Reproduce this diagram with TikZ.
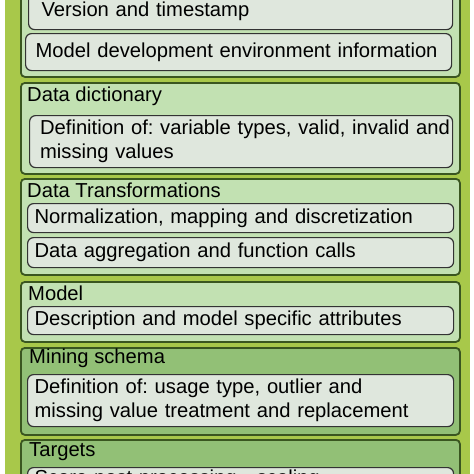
\documentclass[tikz,border=0pt]{standalone}
\usepackage{fontspec}
\setmainfont{Liberation Sans}
\usetikzlibrary{positioning}
\definecolor{limebg}{RGB}{168,200,74}
\definecolor{leafgreen}{RGB}{194,225,178}
\definecolor{mossgreen}{RGB}{146,192,118}
\definecolor{darkrim}{RGB}{58,86,32}
\definecolor{paleface}{RGB}{223,231,221}
\frenchspacing

\begin{document}
\begin{tikzpicture}[x=1pt,y=-1pt,
  every node/.style={font=\fontsize{20.2}{24}\selectfont, inner sep=0pt},
  section/.style={draw=darkrim, line width=1.8pt, rounded corners=4pt, fill=leafgreen,
    anchor=north west, minimum width=439pt},
  subbox/.style={draw=black!80, line width=1.2pt, rounded corners=6pt, fill=paleface,
    anchor=north west, minimum width=426pt, align=left, text width=412pt, inner xsep=7pt},
  heading/.style={anchor=west}]
\useasboundingbox (0,0) rectangle (474,474);
\clip (0,0) rectangle (474,474);
\fill[white] (0,0) rectangle (474,474);
\fill[limebg] (5,0) rectangle (470,474);
% header
\node[section, minimum height=86pt] (header) at (20,-10) {};
\node[subbox, minimum height=37pt, minimum width=424pt, inner xsep=13pt, text width=398pt] (version) at (28,-8) {Version and timestamp};
\node[subbox, minimum height=37pt, inner xsep=10pt, text width=406pt] (envinfo) at (25,33) {Model development environment information};
% data dictionary
\node[section, minimum height=91pt] (dict) at (20,82) {};
\node[heading] (dicttitle) at (27,96) {Data dictionary};
\node[subbox, minimum height=52pt, minimum width=423pt, inner xsep=1.5pt, text width=420pt] (dictdef) at (29,115)
  {\hspace*{9pt}Definition of: variable types, valid, invalid and\\\hspace*{9pt}missing values};
% data transformations
\node[section, minimum height=96pt] (trans) at (20,178) {};
\node[heading] (transtitle) at (27,190) {Data Transformations};
\node[subbox, minimum height=29pt] (norm) at (27,203) {Normalization, mapping and discretization};
\node[subbox, minimum height=30pt] (aggr) at (27,237) {Data aggregation and function calls};
% model
\node[section, minimum height=60pt] (model) at (20,281) {};
\node[heading] (modeltitle) at (28,293) {Model};
\node[subbox, minimum height=28pt] (descr) at (27,306) {Description and model specific attributes};
% mining schema
\node[section, fill=mossgreen, minimum height=87pt] (mining) at (20,347) {};
\node[heading] (miningtitle) at (29,358) {Mining schema};
\node[subbox, minimum height=52pt] (usage) at (27,374) {Definition of: usage type, outlier and\\missing value treatment and replacement};
% targets
\node[section, fill=mossgreen, minimum height=60pt] (targets) at (20,439) {};
\node[heading] (targetstitle) at (29,452) {Targets};
\node[subbox, minimum height=24pt] (score) at (27,467) {Score post-processing - scaling};
\end{tikzpicture}
\end{document}
